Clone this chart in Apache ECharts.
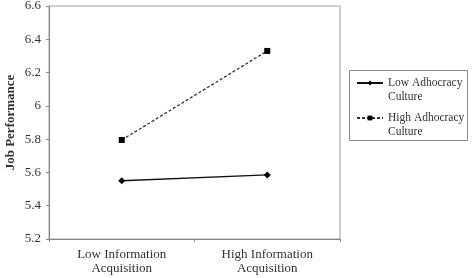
<!DOCTYPE html>
<html><head><meta charset="utf-8">
<script src="https://cdn.jsdelivr.net/npm/echarts@6/dist/echarts.min.js"></script>
<style>html,body{margin:0;padding:0;background:#fff}#c{width:474px;height:278px}</style>
</head><body><div id="c"></div>
<script>
const categories = ['Low Information\nAcquisition', 'High Information\nAcquisition'];
const lowAdhocracy = [5.55, 5.585];
const highAdhocracy = [5.795, 6.33];
const seriesNames = ['Low Adhocracy\nCulture', 'High Adhocracy\nCulture'];
const yTicks = {min: 5.2, max: 6.6, interval: 0.2};

const serif = 'Liberation Serif, Times New Roman, serif';
const chart = echarts.init(document.getElementById('c'), null, {renderer: 'canvas'});
chart.setOption({
  animation: false,
  grid: {left: 49, right: 134, top: 6, bottom: 39, containLabel: false, outerBoundsMode: 'none',
         show: true, borderColor: '#a0a0a0', borderWidth: 1},
  xAxis: {
    type: 'category', data: categories, boundaryGap: true,
    axisLine: {lineStyle: {color: '#888', width: 1}},
    axisTick: {show: true, inside: false, length: 3, lineStyle: {color: '#888'}},
    axisLabel: {fontFamily: serif, fontSize: 13, color: '#333', margin: 9, lineHeight: 14}
  },
  yAxis: {
    type: 'value', min: yTicks.min, max: yTicks.max, interval: yTicks.interval,
    name: 'Job Performance', nameLocation: 'middle', nameGap: 32, nameMoveOverlap: false,
    nameTextStyle: {fontFamily: serif, fontSize: 13, fontWeight: 'bold', color: '#333'},
    axisLine: {show: true, lineStyle: {color: '#888', width: 1}},
    axisTick: {show: true, inside: false, length: 3, lineStyle: {color: '#888'}},
    splitLine: {show: false},
    axisLabel: {fontFamily: serif, fontSize: 13, color: '#333', margin: 8,
      formatter: v => String(Math.round(v * 10) / 10)}
  },
  legend: {
    orient: 'vertical', left: 356, top: 62, itemWidth: 26, itemHeight: 6, itemGap: -7,
    padding: 0,
    formatter: name => '\n' + name,
    textStyle: {fontFamily: serif, fontSize: 11.5, color: '#333', lineHeight: 14},
    data: seriesNames
  },
  graphic: [{
    type: 'rect', shape: {x: 349.5, y: 70.5, width: 118, height: 70},
    style: {fill: 'none', stroke: '#888', lineWidth: 1}, silent: true
  }],
  series: [
    {name: seriesNames[0], type: 'line', data: lowAdhocracy, symbol: 'diamond', symbolSize: 7,
     itemStyle: {color: '#000'}, lineStyle: {color: '#111', width: 1.3, type: 'solid'}},
    {name: seriesNames[1], type: 'line', data: highAdhocracy, symbol: 'rect', symbolSize: 6,
     itemStyle: {color: '#000'}, lineStyle: {color: '#333', width: 1.3, type: [3, 2]}}
  ]
});
</script></body></html>
